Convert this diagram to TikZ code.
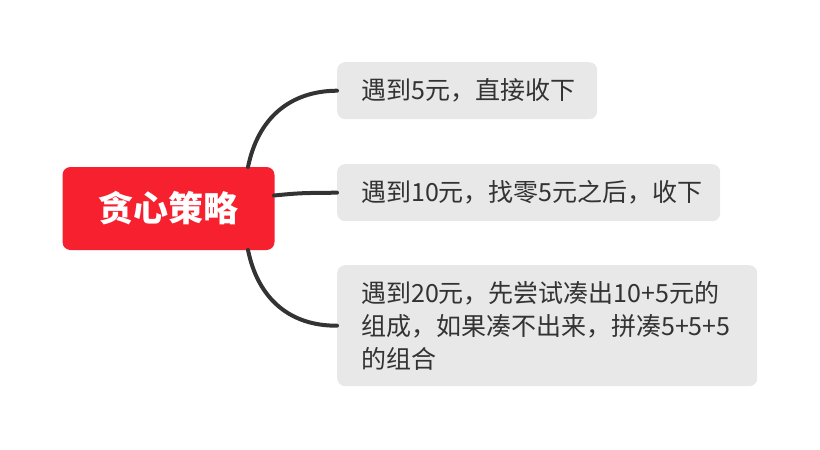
\documentclass[tikz,border=0pt]{standalone}
\usepackage{fontspec}
\setmainfont{Noto Sans CJK SC}
\definecolor{rootred}{HTML}{F7202F}
\definecolor{boxgray}{HTML}{E8E8E8}
\definecolor{inkgray}{HTML}{333333}
\tikzset{
  rootbox/.style={fill=rootred, rounded corners=8pt, text=white, font=\fontsize{35}{40}\selectfont\bfseries,
    minimum width=212pt, minimum height=83pt, inner sep=0pt},
  leafbox/.style={fill=boxgray, rounded corners=8pt, text=inkgray, font=\fontsize{25}{33}\selectfont,
    anchor=north west, inner xsep=24pt, inner ysep=0pt, align=left},
  branch/.style={draw=inkgray, line width=4pt, line cap=round}
}
\begin{document}
\begin{tikzpicture}[x=1pt,y=-1pt]
\useasboundingbox (0,0) rectangle (820,450);
\node[rootbox] (root) at (168.5,208.5) {贪心策略};
\node[leafbox, text width=212pt, minimum width=260pt, minimum height=57pt] (b1) at (337,62) {遇到5元，直接收下};
\node[leafbox, text width=335pt, minimum width=383pt, minimum height=57pt] (b2) at (337,164) {遇到10元，找零5元之后，收下};
\node[leafbox, text width=372pt, minimum width=420pt, minimum height=121pt] (b3) at (337,265) {遇到20元，先尝试凑出10+5元的\\组成，如果凑不出来，拼凑5+5+5\\的组合};
\coordinate (s1) at (248,167);
\coordinate (s2) at (274,195.5);
\coordinate (s3) at (248,250);
\draw[branch] (s1) .. controls (258,118) and (290,91) .. (b1.west);
\draw[branch] (s2) .. controls (300,193) .. (b2.west);
\draw[branch] (s3) .. controls (258,299) and (290,326) .. (b3.west);
\end{tikzpicture}
\end{document}
